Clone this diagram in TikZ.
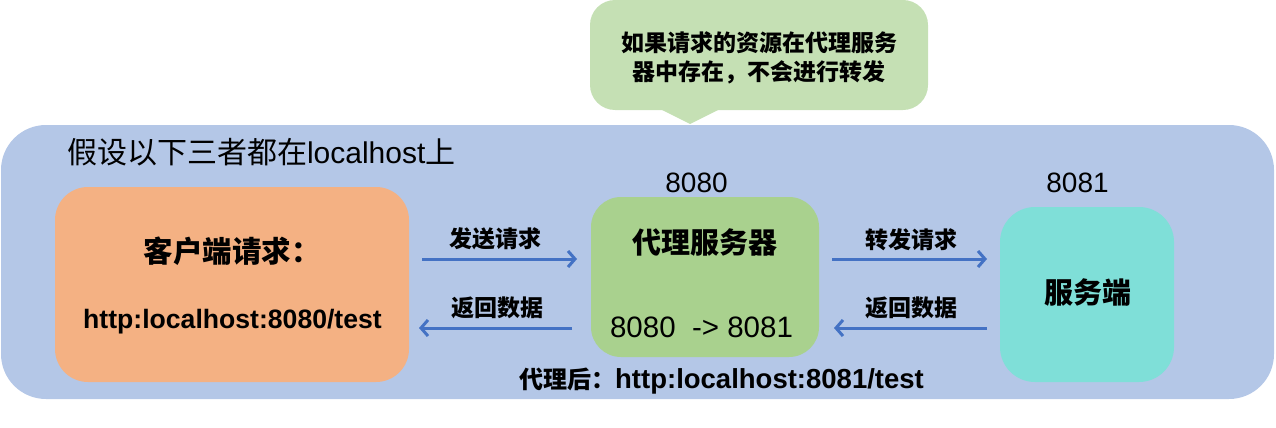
\documentclass[tikz,border=0pt]{standalone}
\usepackage{fontspec}
\setmainfont{Liberation Sans}
\newfontfamily\cjk{Noto Sans CJK SC}
\usetikzlibrary{arrows.meta}
\definecolor{bgblue}{HTML}{B4C7E7}
\definecolor{callgreen}{HTML}{C5E0B4}
\definecolor{clientorange}{HTML}{F4B183}
\definecolor{proxygreen}{HTML}{A9D18E}
\definecolor{serverteal}{HTML}{7FDFD8}
\definecolor{arrowblue}{HTML}{4472C4}
\newcommand{\zh}[1]{{\cjk #1}}
\newcommand{\fs}[1]{\fontsize{#1}{#1}\selectfont}
\tikzset{
  txt/.style={inner sep=0pt, outer sep=0pt, text=black},
  boxnode/.style={inner sep=0pt, outer sep=0pt, draw=none},
  conn/.style={draw=arrowblue, line width=3pt, -{Straight Barb[length=7pt,width=16pt,line width=3pt]}},
}
\begin{document}
\begin{tikzpicture}[x=1pt,y=-1pt]
\useasboundingbox (0,0) rectangle (1276,428);
% background panel
\node[boxnode, fill=bgblue, rounded corners=45pt, minimum width=1273pt, minimum height=274pt] (panel) at (637.5,262) {};
% callout
\node[boxnode, fill=callgreen, rounded corners=25pt, minimum width=338pt, minimum height=110pt] (callout) at (759,55) {};
\coordinate (ptrL) at ([xshift=-99pt,yshift=1pt]callout.south);
\coordinate (ptrR) at ([xshift=-39pt,yshift=1pt]callout.south);
\coordinate (ptrT) at ([xshift=-69pt,yshift=-14pt]callout.south);
\fill[callgreen] (ptrL) -- (ptrT) -- (ptrR) -- cycle;
\node[txt, align=center, font=\fs{23}\bfseries\cjk] (calltext) at (759,57.5)
  {如果请求的资源在代理服务\\[6pt]器中存在，不会进行转发};
% title
\node[txt, anchor=west, font=\fs{30}] (title) at (67,152) {\zh{假设以下三者都在}localhost\zh{上}};
% boxes
\node[boxnode, fill=clientorange, rounded corners=33pt, minimum width=354pt, minimum height=195pt] (client) at (232,284.5) {};
\node[boxnode, fill=proxygreen, rounded corners=30pt, minimum width=228pt, minimum height=160pt] (proxy) at (705,277) {};
\node[boxnode, fill=serverteal, rounded corners=35pt, minimum width=174pt, minimum height=175pt] (server) at (1087,294.5) {};
% client texts
\node[txt, font=\fs{29.5}\bfseries\cjk] (clienttitle) at (232,251) {客户端请求：};
\node[txt, anchor=base, font=\fs{26.6}\bfseries] (clienturl) at (232.5,328) {http:localhost:8080/test};
% proxy texts
\node[txt, anchor=base, font=\fs{28}] (port1) at (696.5,192) {8080};
\node[txt, font=\fs{29}\bfseries\cjk] (proxytitle) at (704.5,242) {代理服务器};
\node[txt, anchor=base, font=\fs{29.5}] (proxymap) at (701.5,337) {8080~~-> 8081};
% server texts
\node[txt, anchor=base, font=\fs{28}] (port2) at (1077.5,192) {8081};
\node[txt, font=\fs{29}\bfseries\cjk] (servertitle) at (1087.5,293) {服务端};
% bottom label
\node[txt, anchor=base, font=\fs{27.5}\bfseries] (after) at (721.5,388) {\zh{\fs{24}代理后：}http:localhost:8081/test};
% arrows
\coordinate (a1s) at (422,259);
\coordinate (a1e) at (577,259);
\coordinate (a2s) at (572,328);
\coordinate (a2e) at (419,328);
\coordinate (a3s) at (832,259);
\coordinate (a3e) at (987,259);
\coordinate (a4s) at (987,328);
\coordinate (a4e) at (834,328);
\draw[conn] (a1s) -- (a1e);
\draw[conn] (a2s) -- (a2e);
\draw[conn] (a3s) -- (a3e);
\draw[conn] (a4s) -- (a4e);
\node[txt, font=\fs{23}\bfseries\cjk] (l1) at (495,239) {发送请求};
\node[txt, font=\fs{23}\bfseries\cjk] (l2) at (497,308) {返回数据};
\node[txt, font=\fs{23}\bfseries\cjk] (l3) at (911,240) {转发请求};
\node[txt, font=\fs{23}\bfseries\cjk] (l4) at (911,308) {返回数据};
\end{tikzpicture}
\end{document}
